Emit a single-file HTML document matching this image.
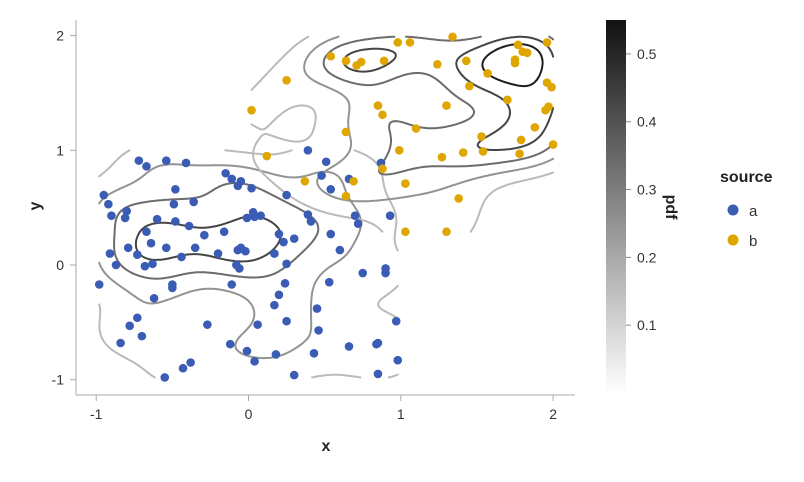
<!DOCTYPE html>
<html><head><meta charset="utf-8"><style>
body{margin:0;background:#fff;font-family:"Liberation Sans",sans-serif}
svg text{font-family:"Liberation Sans",sans-serif}
</style></head><body>
<svg id="chart" width="804" height="477" xmlns="http://www.w3.org/2000/svg">
<defs><linearGradient id="cbg" x1="0" y1="1" x2="0" y2="0"><stop offset="0" stop-color="#ffffff"/><stop offset="1" stop-color="#111111"/></linearGradient></defs>
<g id="contours"></g>
<g id="points"></g>
<g id="axes"></g>
<rect x="606" y="20" width="20" height="373" fill="url(#cbg)"/>
<g id="cbticks"></g>
<text transform="translate(666,207) rotate(90)" text-anchor="middle" font-size="16" font-weight="bold" fill="#222">pdf</text>
<text x="326" y="451" text-anchor="middle" font-size="16" font-weight="bold" fill="#222">x</text>
<text transform="translate(40,206) rotate(-90)" text-anchor="middle" font-size="16" font-weight="bold" fill="#222">y</text>
<g>
<text x="720" y="182" font-size="16" font-weight="bold" fill="#222">source</text>
<circle cx="733" cy="210" r="5.5" fill="#3A5CB5"/>
<text x="749" y="216" font-size="15" fill="#333">a</text>
<circle cx="733" cy="240" r="5.5" fill="#DFA600"/>
<text x="749" y="246" font-size="15" fill="#333">b</text>
</g>
</svg>
<script>
const blueX=[-0.72,-0.67,-0.54,-0.41,0.39,0.51,0.48,0.54,0.87,0.66,-0.15,-0.11,-0.05,-0.07,0.02,-0.48,0.25,-0.95,-0.92,-0.49,-0.36,-0.80,-0.90,-0.81,-0.60,-0.48,-0.39,0.03,0.08,0.04,-0.01,0.39,0.41,0.70,0.72,0.93,-0.67,-0.29,-0.16,0.20,0.23,0.30,0.54,0.60,-0.64,-0.54,-0.35,-0.79,-0.05,-0.07,-0.02,-0.20,0.17,-0.91,-0.73,-0.44,-0.87,-0.68,-0.63,-0.08,-0.06,0.25,0.90,0.90,0.75,-0.98,-0.50,-0.50,-0.11,0.24,0.53,0.20,0.17,-0.62,0.45,-0.73,-0.78,-0.70,-0.84,-0.27,0.06,0.25,0.46,0.97,-0.12,-0.01,0.18,0.43,0.66,0.84,0.85,0.04,-0.38,-0.43,0.98,-0.55,0.30,0.85];
const blueY=[0.91,0.86,0.91,0.89,1.00,0.90,0.78,0.66,0.89,0.75,0.80,0.75,0.73,0.69,0.67,0.66,0.61,0.61,0.53,0.53,0.55,0.47,0.43,0.41,0.40,0.38,0.34,0.46,0.43,0.42,0.41,0.44,0.38,0.43,0.36,0.43,0.29,0.26,0.29,0.27,0.20,0.23,0.27,0.13,0.19,0.15,0.15,0.15,0.15,0.13,0.12,0.10,0.10,0.10,0.09,0.07,0.00,-0.01,0.01,0.00,-0.03,0.01,-0.03,-0.07,-0.07,-0.17,-0.17,-0.20,-0.17,-0.16,-0.15,-0.26,-0.35,-0.29,-0.38,-0.46,-0.53,-0.62,-0.68,-0.52,-0.52,-0.49,-0.57,-0.49,-0.69,-0.75,-0.78,-0.77,-0.71,-0.69,-0.68,-0.84,-0.85,-0.90,-0.83,-0.98,-0.96,-0.95];
const yellowX=[1.34,0.98,1.06,0.54,0.64,0.71,0.74,0.89,1.24,1.43,1.77,1.80,1.83,1.96,1.75,1.75,1.57,1.96,1.99,1.45,1.70,1.95,1.97,0.25,0.02,0.85,0.88,1.30,1.10,0.64,1.88,1.53,1.79,2.00,0.99,1.27,1.41,1.54,1.78,0.12,0.88,0.37,0.69,1.03,0.64,1.38,1.03,1.30];
const yellowY=[1.99,1.94,1.94,1.82,1.78,1.74,1.77,1.78,1.75,1.78,1.92,1.86,1.85,1.94,1.79,1.76,1.67,1.59,1.55,1.56,1.44,1.35,1.38,1.61,1.35,1.39,1.31,1.39,1.19,1.16,1.20,1.12,1.09,1.05,1.00,0.94,0.98,0.99,0.97,0.95,0.84,0.73,0.73,0.71,0.60,0.58,0.29,0.29];
const xTicks=[-1,0,1,2];
const yTicks=[-1,0,1,2];
const cbTicks=[0.1,0.2,0.3,0.4,0.5];
const levels=[0.1,0.2,0.3,0.4,0.5];

const NS="http://www.w3.org/2000/svg";
const sx=v=>248.5+v*152.3;
const sy=v=>265-v*114.7;
const cbMin=0.0,cbMax=0.55;
const cby=v=>393-(v-cbMin)/(cbMax-cbMin)*373;
function mk(tag,attrs,parent){const e=document.createElementNS(NS,tag);for(const k in attrs)e.setAttribute(k,attrs[k]);parent.appendChild(e);return e;}

const ax=document.getElementById('axes');
let l=mk('line',{x1:76,y1:20,x2:76,y2:395,stroke:'#aaa','stroke-width':1},ax);


l=mk('line',{x1:76,y1:395,x2:575,y2:395,stroke:'#aaa','stroke-width':1},ax);


xTicks.forEach(t=>{
  const tk=mk('line',{x1:sx(t),y1:395,x2:sx(t),y2:401,stroke:'#aaa'},ax);
  
  
  const tx=mk('text',{x:sx(t),y:419,'text-anchor':'middle','font-size':14,fill:'#333'},ax);
  tx.textContent=t<0?'-'+Math.abs(t):String(t);
  
  
});
yTicks.forEach(t=>{
  const tk=mk('line',{x1:70,y1:sy(t),x2:76,y2:sy(t),stroke:'#aaa'},ax);
  
  
  const tx=mk('text',{x:64,y:sy(t)+5,'text-anchor':'end','font-size':14,fill:'#333'},ax);
  tx.textContent=t<0?'-'+Math.abs(t):String(t);
  
  
});
const cbg=document.getElementById('cbticks');
cbTicks.forEach(t=>{
  const tk=mk('line',{x1:626,y1:cby(t),x2:631,y2:cby(t),stroke:'#888'},cbg);
  
  
  const tx=mk('text',{x:637,y:cby(t)+5,'font-size':14,fill:'#333'},cbg);
  tx.textContent=String(t);
  
  
});

const cg=document.getElementById('contours');
function drawKDE(X,Y,name){
  const n=X.length, hx=0.21, hy=0.18;
  const x0=Math.min(...X), x1=Math.max(...X), y0=Math.min(...Y), y1=Math.max(...Y);
  const NX=130, NY=130;
  const G=[];
  for(let j=0;j<=NY;j++){const row=[];const yy=y0+(y1-y0)*j/NY;
    for(let i=0;i<=NX;i++){const xx=x0+(x1-x0)*i/NX;let s=0;
      for(let k=0;k<n;k++){const dx=(xx-X[k])/hx,dy=(yy-Y[k])/hy;s+=Math.exp(-0.5*(dx*dx+dy*dy));}
      row.push(s/(n*2*Math.PI*hx*hy));}
    G.push(row);}
  const gx=i=>sx(x0+(x1-x0)*i/NX), gy=j=>sy(y0+(y1-y0)*j/NY);
  levels.forEach(L=>{
    const t=Math.min(1,L/cbMax);const g=Math.round(225-t*215);
    let d='';
    for(let j=0;j<NY;j++)for(let i=0;i<NX;i++){
      const a=G[j][i],b=G[j][i+1],c=G[j+1][i+1],e=G[j+1][i];
      const pts=[];
      const cross=(v1,v2,p1,p2)=>{if((v1<L)!==(v2<L)){const f=(L-v1)/(v2-v1);pts.push([p1[0]+(p2[0]-p1[0])*f,p1[1]+(p2[1]-p1[1])*f]);}};
      const P00=[gx(i),gy(j)],P10=[gx(i+1),gy(j)],P11=[gx(i+1),gy(j+1)],P01=[gx(i),gy(j+1)];
      cross(a,b,P00,P10);cross(b,c,P10,P11);cross(c,e,P11,P01);cross(e,a,P01,P00);
      for(let q=0;q+1<pts.length;q+=2)d+='M'+pts[q][0].toFixed(1)+' '+pts[q][1].toFixed(1)+'L'+pts[q+1][0].toFixed(1)+' '+pts[q+1][1].toFixed(1);
    }
    const p=mk('path',{d:d,fill:'none',stroke:`rgb(${g},${g},${g})`,'stroke-width':2,'stroke-linecap':'round'},cg);
    
    
  });
}
drawKDE(blueX,blueY,'a');
drawKDE(yellowX,yellowY,'b');

const pg=document.getElementById('points');
blueX.forEach((v,i)=>{
  const c=mk('circle',{cx:sx(v),cy:sy(blueY[i]),r:4.3,fill:'#3A5CB5'},pg);
  
  
});
yellowX.forEach((v,i)=>{
  const c=mk('circle',{cx:sx(v),cy:sy(yellowY[i]),r:4.3,fill:'#DFA600'},pg);
  
  
});
</script>
</body></html>
